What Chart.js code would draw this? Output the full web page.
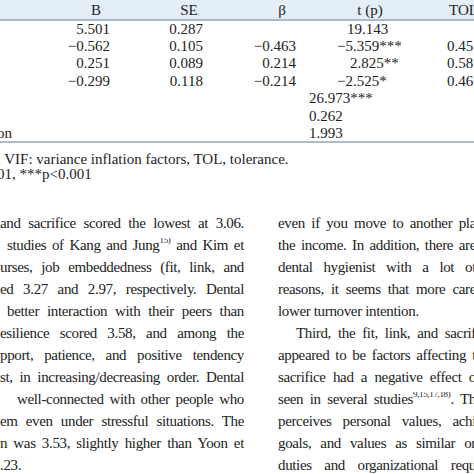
<!DOCTYPE html>
<html><head><meta charset="utf-8">
<script src="https://cdn.jsdelivr.net/npm/chart.js@4/dist/chart.umd.min.js"></script>
<style>
body{margin:0;width:474px;height:474px;overflow:hidden;background:#fff;font-family:"Liberation Serif","DejaVu Serif",serif;color:#222;position:relative}
.a{position:absolute;white-space:nowrap;line-height:1}
.t{font-size:15px}
.p{font-size:15px;letter-spacing:-0.35px}
.j{text-align:justify;text-align-last:justify;white-space:normal;overflow:hidden;height:18px}
sup{font-size:9px;vertical-align:7px;line-height:0}
#c{position:absolute;left:0;top:0;width:474px;height:474px;pointer-events:none}
</style></head><body>
<div class="a" style="left:0;top:0;width:474px;height:19px;background:#e4eef7;border-bottom:2px solid #a9bccb"></div>
<div class="a" style="left:0;top:141px;width:474px;height:0;border-bottom:2px solid #a9bccb"></div>
<div id="tbl"></div>
<div id="txt"></div>
<canvas id="c" width="474" height="474"></canvas>
<script>
const headers=["B","SE","β","t (p)","TOL"];
const colB=["5.501","−0.562","0.251","−0.299"];
const colSE=["0.287","0.105","0.089","0.118"];
const colBeta=["","−0.463","0.214","−0.214"];
const colT=["19.143","−5.359***","2.825**","−2.525*"];
const colTOL=["","0.45","0.58","0.46"];
const modelStats=["26.973***","0.262","1.993"];
const leftLines=[[0,"and sacrifice scored the lowest at 3.06."],[7,"studies of Kang and Jung<sup>15)</sup> and Kim et"],[0,"urses, job embeddedness (fit, link, and"],[0,"ed 3.27 and 2.97, respectively. Dental"],[7,"better interaction with their peers than"],[0,"esilience scored 3.58, and among the"],[0,"pport, patience, and positive tendency"],[0,"st, in increasing/decreasing order. Dental"],[17,"well-connected with other people who"],[0,"em even under stressful situations. The"],[0,"n was 3.53, slightly higher than Yoon et"]];
const rightLines=[[278,"even if you move to another pla"],[278,"the income. In addition, there are"],[278,"dental hygienist with a lot ot"],[278,"reasons, it seems that more care"],[278,"lower turnover intention.",1],[296,"Third, the fit, link, and sacrif"],[278,"appeared to be factors affecting t"],[278,"sacrifice had a negative effect o"],[278,"seen in several studies<sup>9,15,17,18)</sup>. Th"],[278,"perceives personal values, achi"],[278,"goals, and values as similar or"],[278,"duties and organizational requ"]];
let h="";
const hx=[96,189,282,370,449];
headers.forEach((s,i)=>{h+=`<div class="a t" style="left:${hx[i]-(i==4?0:40)}px;width:${i==4?60:80}px;text-align:${i==4?'left':'center'};top:3px">${s}</div>`});
const rowY=[22,39,56,74];
for(let r=0;r<4;r++){
 h+=`<div class="a t" style="right:${474-110}px;top:${rowY[r]}px">${colB[r]}</div>`;
 h+=`<div class="a t" style="right:${474-203}px;top:${rowY[r]}px">${colSE[r]}</div>`;
 h+=`<div class="a t" style="right:${474-296}px;top:${rowY[r]}px">${colBeta[r]}</div>`;
 h+=`<div class="a t" style="left:${r==0?347:(r==2?350:337)}px;top:${rowY[r]}px">${colT[r]}</div>`;
 h+=`<div class="a t" style="left:447px;top:${rowY[r]}px">${colTOL[r]}</div>`;
}
modelStats.forEach((s,i)=>{h+=`<div class="a t" style="left:309px;top:${91+i*17.5}px">${s}</div>`});
h+=`<div class="a t" style="left:-3px;top:126px">on</div>`;
h+=`<div class="a t" style="left:-3px;top:152px">, VIF: variance inflation factors, TOL, tolerance.</div>`;
h+=`<div class="a t" style="left:-3px;top:167px">01, ***p&lt;0.001</div>`;
document.getElementById("tbl").innerHTML=h;
let g="";
leftLines.forEach(([x,s],i)=>{g+=`<div class="a p j" style="left:${x}px;width:${244-x}px;top:${216+i*22}px">${s}</div>`});
g+=`<div class="a p" style="left:0;top:${216+11*22}px">.23.</div>`;
rightLines.forEach(([x,s,last],i)=>{g+= last?`<div class="a p" style="left:${x}px;top:${216+i*22}px">${s}</div>`:`<div class="a p j" style="left:${x}px;width:${476-x}px;top:${216+i*22}px">${s}</div>`});
document.getElementById("txt").innerHTML=g;
new Chart(document.getElementById("c"),{type:"scatter",data:{datasets:[]},options:{responsive:false,animation:false,plugins:{legend:{display:false},tooltip:{enabled:false}},scales:{x:{display:false},y:{display:false}}}});
</script>
</body></html>
